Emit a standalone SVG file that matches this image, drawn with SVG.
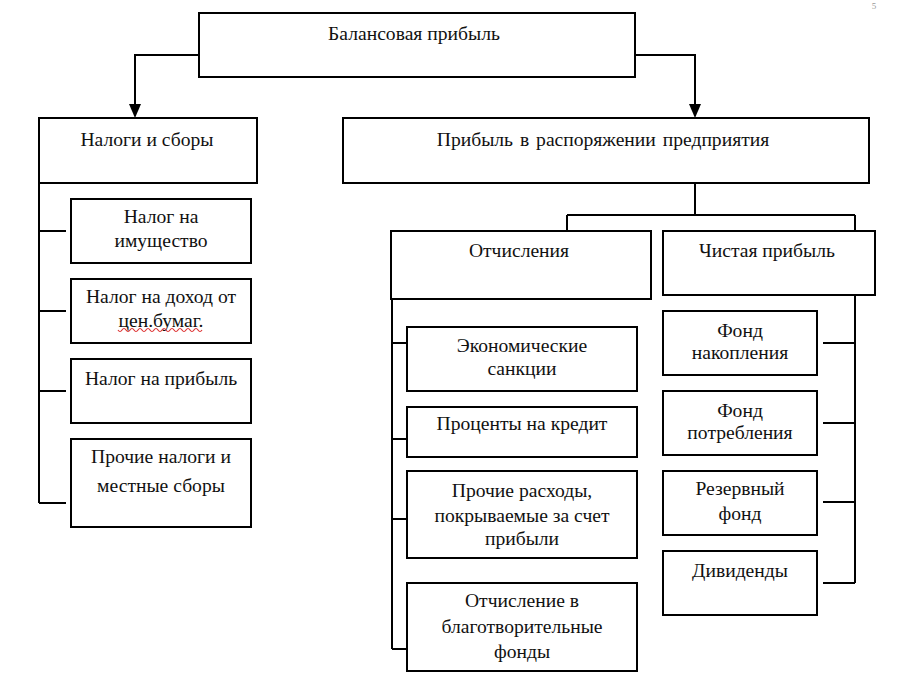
<svg xmlns="http://www.w3.org/2000/svg" width="902" height="678" viewBox="0 0 902 678">
<style>
.box{fill:#fff;stroke:#000;stroke-width:2}
.ln{fill:none;stroke:#000;stroke-width:2}
.t{font-family:'Liberation Serif','DejaVu Serif',serif;font-size:19.6px;fill:#111;text-anchor:middle}
</style>
<rect width="902" height="678" fill="#fff"/>
<text x="874" y="9" font-family="'Liberation Serif', serif" font-size="9" fill="#999" text-anchor="middle">5</text>
<g id="connectors">
<path class="ln" d="M199,55 H135 V105" />
<path d="M129,104 L141,104 L135,118 Z" fill="#000"/>
<path class="ln" d="M635,55 H695 V105" />
<path d="M689,104 L701,104 L695,118 Z" fill="#000"/>
<path class="ln" d="M695,183 V215 M567,215 H855 M567,215 V231 M855,215 V231" />
<path class="ln" d="M39,183 V503 M39,231 H66 M39,311 H66 M39,391 H66 M39,503 H66" />
<path class="ln" d="M392,299 V649 M392,343 H407 M392,439 H407 M392,519 H407 M392,649 H407" />
<path class="ln" d="M855,295 V583 M823,343 H855 M823,423 H855 M823,502 H855 M823,583 H855" />
</g>
<g class="t">
<g id="n-balance"><rect class="box" x="199" y="13" width="436" height="64"/><text x="414" y="40">Балансовая прибыль</text></g>
<g id="n-taxes"><rect class="box" x="39" y="118" width="218" height="65"/><text x="147" y="146">Налоги и сборы</text></g>
<g id="n-profit"><rect class="box" x="343" y="118" width="526" height="65"/><text x="603" y="146" word-spacing="2">Прибыль в распоряжении предприятия</text></g>
<g id="n-deductions"><rect class="box" x="391" y="231" width="260" height="68"/><text x="519" y="257">Отчисления</text></g>
<g id="n-net"><rect class="box" x="663" y="231" width="212" height="64"/><text x="767" y="257">Чистая прибыль</text></g>
<g id="n-property"><rect class="box" x="71" y="199" width="180" height="64"/><text x="161" y="223">Налог на</text><text x="161" y="247">имущество</text></g>
<g id="n-securities"><rect class="box" x="71" y="279" width="180" height="64"/><text x="161" y="303">Налог на доход от</text><text x="161" y="327">цен.бумаг.</text><path d="M118,330 q2,3 4,0 t4,0 t4,0 t4,0 t4,0 t4,0 t4,0 t4,0 t4,0 t4,0 t4,0 t4,0 t4,0 t4,0 t4,0 t4,0 t4,0 t4,0 t4,0 t4,0 t4,0" fill="none" stroke="#d33" stroke-width="1.2"/></g>
<g id="n-profittax"><rect class="box" x="71" y="359" width="180" height="64"/><text x="161" y="385">Налог на прибыль</text></g>
<g id="n-othertaxes"><rect class="box" x="71" y="439" width="180" height="88"/><text x="161" y="463">Прочие налоги и</text><text x="161" y="492">местные сборы</text></g>
<g id="n-sanctions"><rect class="box" x="407" y="327" width="230" height="64"/><text x="522" y="352">Экономические</text><text x="522" y="375">санкции</text></g>
<g id="n-interest"><rect class="box" x="407" y="407" width="230" height="50"/><text x="522" y="430">Проценты на кредит</text></g>
<g id="n-otherexp"><rect class="box" x="407" y="471" width="230" height="87"/><text x="522" y="497">Прочие расходы,</text><text x="522" y="522">покрываемые за счет</text><text x="522" y="545">прибыли</text></g>
<g id="n-charity"><rect class="box" x="407" y="583" width="230" height="88"/><text x="522" y="607">Отчисление в</text><text x="522" y="633">благотворительные</text><text x="522" y="658">фонды</text></g>
<g id="n-accum"><rect class="box" x="663" y="311" width="154" height="64"/><text x="740" y="337">Фонд</text><text x="740" y="359">накопления</text></g>
<g id="n-consum"><rect class="box" x="663" y="391" width="154" height="64"/><text x="740" y="417">Фонд</text><text x="740" y="439">потребления</text></g>
<g id="n-reserve"><rect class="box" x="663" y="471" width="154" height="64"/><text x="740" y="495">Резервный</text><text x="740" y="520">фонд</text></g>
<g id="n-dividends"><rect class="box" x="663" y="551" width="154" height="64"/><text x="740" y="577">Дивиденды</text></g>
</g>
</svg>
